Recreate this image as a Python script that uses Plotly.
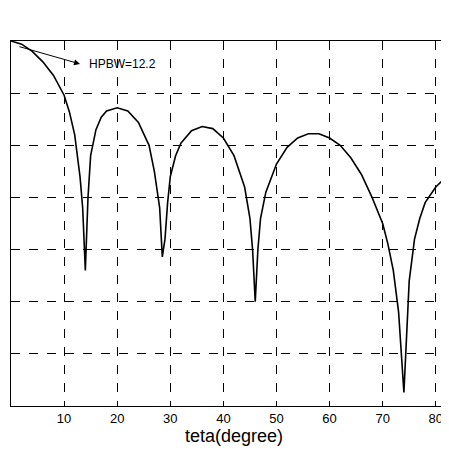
import plotly.graph_objects as go

# pattern (dB vs degree)
teta = [0, 2, 4, 6, 8, 10, 11, 12, 13, 13.5, 14, 14.5, 15, 16, 17, 18, 20, 22, 24, 26, 27, 28,
        28.5, 29, 29.5, 30, 31, 32, 34, 36, 38, 40, 42, 44, 45, 45.5, 46, 46.5, 47, 48, 50,
        52, 54, 56, 58, 60, 62, 64, 66, 68, 70, 71, 72, 73, 74, 74.5, 75, 76, 77, 78, 80, 82, 84]
gain = [0, -0.3, -1.0, -2.0, -3.3, -5.2, -6.8, -9, -13, -16, -22, -15, -11, -8.5, -7.3, -6.7,
        -6.4, -6.7, -7.8, -10, -12.5, -16, -20.7, -19, -15.5, -13, -11, -9.8, -8.6, -8.2, -8.4,
        -9.3, -11, -14, -17, -20, -25, -20, -17, -14.5, -11.8, -10.2, -9.3, -8.9, -8.9, -9.3,
        -10, -11.2, -12.8, -15, -17.5, -19.5, -22, -26, -33.7, -28, -23, -19, -17, -15.5, -14,
        -13, -12.4]

fig = go.Figure()
fig.add_trace(go.Scatter(x=teta, y=gain, mode="lines", line=dict(color="black", width=1.6),
                         cliponaxis=False))

fig.add_annotation(x=13, y=-2.2, ax=1.3, ay=-0.5, axref="x", ayref="y",
                   text="", showarrow=True, arrowhead=2, arrowsize=1.2, arrowwidth=1,
                   arrowcolor="black")
fig.add_annotation(x=14.3, y=-2.2, text="HPBW=12.2", showarrow=False, xanchor="left",
                   font=dict(size=12, color="black"))

axis = dict(showline=True, linecolor="black", mirror=True, showgrid=True,
            gridcolor="black", griddash="dash", gridwidth=1, zeroline=False,
            ticks="inside", tickcolor="black", automargin=False)
fig.update_xaxes(axis, range=[0, 84], tick0=0, dtick=10,
                 title=dict(text="teta(degree)", standoff=2), tickfont=dict(size=13))
fig.update_yaxes(axis, range=[-35, 0], dtick=5, showticklabels=False)

fig.update_layout(width=449, height=449, margin=dict(l=3, r=0, t=33, b=51, autoexpand=False),
                  plot_bgcolor="white", paper_bgcolor="white", showlegend=False,
                  font=dict(family="Liberation Sans, Arial", size=15, color="black"))
fig.write_html("out.html")
